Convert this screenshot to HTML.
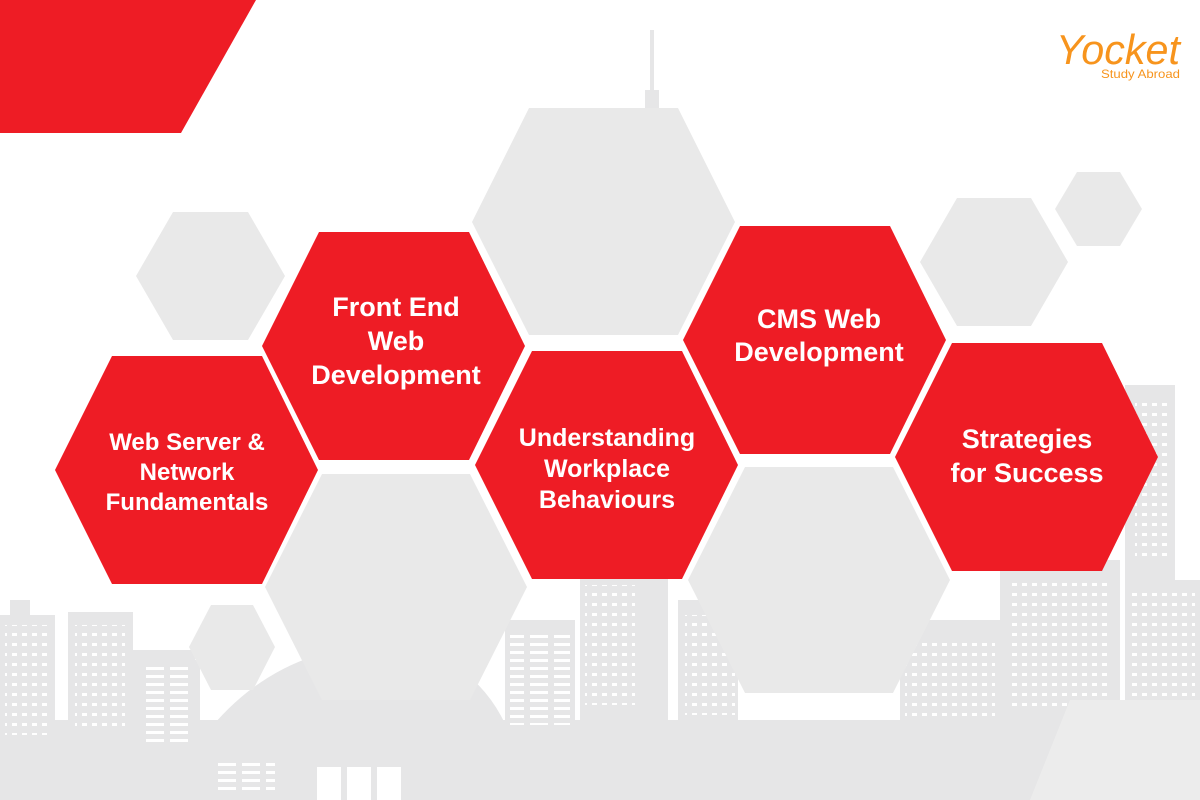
<!DOCTYPE html>
<html><head><meta charset="utf-8"><style>
html,body{margin:0;padding:0;background:#fff}
svg{display:block}
text{font-family:"Liberation Sans",sans-serif}
</style></head><body>
<svg width="1200" height="800" viewBox="0 0 1200 800" xmlns="http://www.w3.org/2000/svg">
<defs>
<pattern id="win" width="10" height="10" patternUnits="userSpaceOnUse">
<rect width="10" height="10" fill="#e6e6e7"/><rect x="2" y="3" width="5" height="3" fill="#fff"/>
</pattern>
<pattern id="stripe" width="24" height="8" patternUnits="userSpaceOnUse">
<rect width="24" height="8" fill="#e6e6e7"/><rect x="2" y="3" width="18" height="3" fill="#fff"/>
</pattern>
</defs>
<rect width="1200" height="800" fill="#fff"/>
<g fill="#e6e6e7">
<rect x="650" y="30" width="4" height="80"/>
<rect x="645" y="90" width="14" height="20"/>
<rect x="0" y="615" width="55" height="185"/>
<rect x="10" y="600" width="20" height="20"/>
<rect x="68" y="612" width="65" height="188"/>
<rect x="125" y="650" width="70" height="150"/>
<rect x="170" y="660" width="30" height="140"/>
<path d="M205 735 Q280 640 400 645 Q480 660 510 735 Z"/>
<rect x="198" y="735" width="310" height="65"/>
<rect x="505" y="620" width="70" height="180"/>
<rect x="580" y="570" width="60" height="230"/>
<rect x="640" y="560" width="28" height="240"/>
<rect x="678" y="600" width="60" height="200"/>
<rect x="900" y="620" width="100" height="180"/>
<rect x="1000" y="560" width="120" height="240"/>
<rect x="1125" y="385" width="50" height="415"/>
<rect x="1125" y="580" width="75" height="220"/>
<rect x="0" y="720" width="1200" height="80"/>
</g>
<rect x="5" y="625" width="45" height="110" fill="url(#win)"/>
<rect x="75" y="625" width="50" height="105" fill="url(#win)"/>
<rect x="140" y="665" width="50" height="80" fill="url(#stripe)"/>
<rect x="510" y="630" width="60" height="95" fill="url(#stripe)"/>
<rect x="585" y="585" width="50" height="120" fill="url(#win)"/>
<rect x="685" y="615" width="50" height="100" fill="url(#win)"/>
<rect x="905" y="640" width="90" height="80" fill="url(#win)"/>
<rect x="1010" y="580" width="100" height="130" fill="url(#win)"/>
<rect x="1135" y="400" width="35" height="160" fill="url(#win)"/>
<rect x="1130" y="590" width="65" height="110" fill="url(#win)"/>
<rect x="215" y="760" width="60" height="35" fill="url(#stripe)"/>
<g fill="#fff"><rect x="317" y="767" width="24" height="33"/><rect x="347" y="767" width="24" height="33"/><rect x="377" y="767" width="24" height="33"/></g>
<path d="M1070 700 L1200 700 L1200 800 L1030 800 Z" fill="#ececec"/>
<path d="M0 0 L256 0 L181 133 L0 133 Z" fill="#ee1c25"/>
<g fill="#e9e9e9">
<path d="M472 222 L529 108 L678 108 L735 222 L678 335 L529 335 Z"/>
<path d="M136 276 L173 212 L248 212 L285 276 L248 340 L173 340 Z"/>
<path d="M265 587 L322 474 L470 474 L527 587 L470 700 L322 700 Z"/>
<path d="M189 647 L211 605 L253 605 L275 647 L253 690 L211 690 Z"/>
<path d="M688 580 L745 467 L893 467 L950 580 L893 693 L745 693 Z"/>
<path d="M920 262 L957 198 L1031 198 L1068 262 L1031 326 L957 326 Z"/>
<path d="M1055 209 L1077 172 L1120 172 L1142 209 L1120 246 L1077 246 Z"/>
</g>
<g fill="#ee1c25">
<path d="M55 470 L112 356 L262 356 L318 470 L262 584 L112 584 Z"/>
<path d="M262 346 L319 232 L469 232 L525 346 L469 460 L319 460 Z"/>
<path d="M475 465 L532 351 L682 351 L738 465 L682 579 L532 579 Z"/>
<path d="M683 340 L740 226 L890 226 L946 340 L890 454 L740 454 Z"/>
<path d="M895 457 L952 343 L1102 343 L1158 457 L1102 571 L952 571 Z"/>
</g>
<g fill="#fff" font-weight="bold" text-anchor="middle">
<text x="187" y="450" font-size="24">Web Server &amp;</text>
<text x="187" y="480" font-size="24">Network</text>
<text x="187" y="510" font-size="24">Fundamentals</text>
<text x="396" y="316" font-size="27">Front End</text>
<text x="396" y="350" font-size="27">Web</text>
<text x="396" y="384" font-size="27">Development</text>
<text x="607" y="446" font-size="25">Understanding</text>
<text x="607" y="477" font-size="25">Workplace</text>
<text x="607" y="508" font-size="25">Behaviours</text>
<text x="819" y="328" font-size="27">CMS Web</text>
<text x="819" y="361" font-size="27">Development</text>
<text x="1027" y="448" font-size="27">Strategies</text>
<text x="1027" y="482" font-size="27">for Success</text>
</g>
<text x="1056" y="64" font-size="42" font-style="italic" fill="#f7941d" font-family="'Liberation Serif',serif" textLength="124" lengthAdjust="spacingAndGlyphs">Yocket</text>
<text x="1101" y="78" font-size="12" fill="#f7941d" textLength="79" lengthAdjust="spacingAndGlyphs">Study Abroad</text>
</svg>
</body></html>
